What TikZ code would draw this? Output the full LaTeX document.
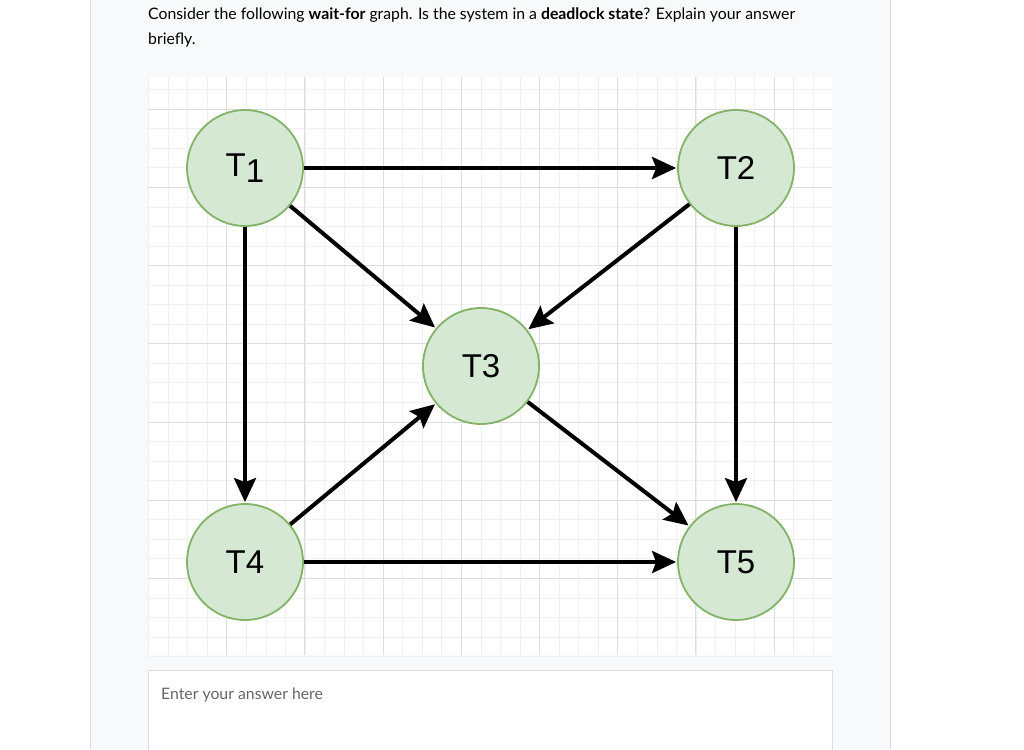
\documentclass[tikz,border=0pt]{standalone}
\usepackage{fontspec}
\setmainfont{Liberation Sans}
\newfontfamily\qfont{Lato}
\usetikzlibrary{arrows.meta}
\definecolor{panel}{HTML}{F8F9FB}
\definecolor{nfill}{HTML}{D5E8D4}
\definecolor{ndraw}{HTML}{82B366}
\definecolor{gminor}{HTML}{F0F0F0}
\definecolor{gmajor}{HTML}{DDDDDD}
\tikzset{
  tnode/.style={circle,fill=nfill,draw=ndraw,line width=1.8pt,minimum size=116pt,inner sep=0pt,font=\fontsize{33}{36}\selectfont},
  edge/.style={line width=4pt,-{Stealth[length=24pt,width=22pt,inset=4pt]},shorten >=1pt}
}
\begin{document}
\begin{tikzpicture}[x=1pt,y=-1pt]
\useasboundingbox (0,0) rectangle (1024,749);
\fill[white] (0,0) rectangle (1024,749);
\fill[panel] (90,0) rectangle (890,749);
\draw[gmajor,line width=0.6pt] (90,0) -- (90,749) (890,0) -- (890,749);
\fill[white] (148,77) rectangle (832,655);
\foreach \i in {0,...,34} {\draw[gminor,line width=0.6pt] (148.5+19.55*\i,77) -- (148.5+19.55*\i,655);}
\foreach \i in {0,...,29} {\draw[gminor,line width=0.6pt] (148,89.5+19.55*\i) -- (832,89.5+19.55*\i);}
\foreach \i in {0,...,7} {\draw[gmajor,line width=0.6pt] (226.5+78.2*\i,77) -- (226.5+78.2*\i,655);}
\foreach \i in {0,...,6} {\draw[gmajor,line width=0.6pt] (148,109+78.2*\i) -- (832,109+78.2*\i);}
\node[anchor=west,inner sep=0pt,font=\qfont\fontsize{15.8}{18}\selectfont] (q1) at (148,15) {Consider the following \textbf{wait-for} graph. Is the system in a \textbf{deadlock state}? Explain your answer};
\node[anchor=west,inner sep=0pt,font=\qfont\fontsize{15.8}{18}\selectfont] (q2) at (148,40) {briefly.};
\node[tnode] (T1) at (245,168) {T\raisebox{-0.35ex}{1}};
\node[tnode] (T2) at (736,168) {T2};
\node[tnode] (T3) at (481,366) {T3};
\node[tnode] (T4) at (245,562) {T4};
\node[tnode] (T5) at (736,562) {T5};
\draw[edge] (T1) -- (T2);
\draw[edge] (T1) -- (T3);
\draw[edge] (T2) -- (T3);
\draw[edge] (T1) -- (T4);
\draw[edge] (T2) -- (T5);
\draw[edge] (T4) -- (T3);
\draw[edge] (T3) -- (T5);
\draw[edge] (T4) -- (T5);
\draw[gmajor,fill=white,line width=0.8pt] (148,670) rectangle (832,760);
\node[anchor=west,inner sep=0pt,text=black!60,font=\qfont\fontsize{15.8}{18}\selectfont] (ans) at (161,695) {Enter your answer here};
\end{tikzpicture}
\end{document}
